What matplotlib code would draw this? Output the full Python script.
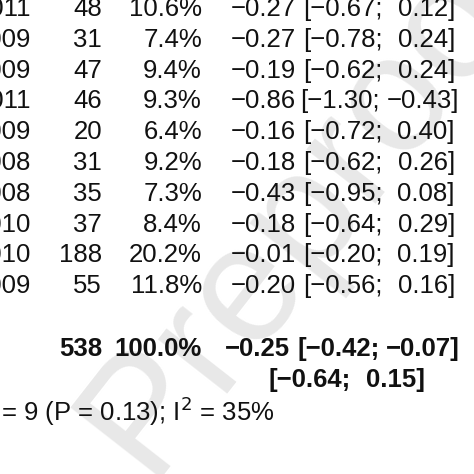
import matplotlib.pyplot as plt

years = ["2011", "2009", "2009", "2011", "2009", "2008", "2008", "2010", "2010", "2009"]
totals = ["48", "31", "47", "46", "20", "31", "35", "37", "188", "55"]
weights = ["10.6%", "7.4%", "9.4%", "9.3%", "6.4%", "9.2%", "7.3%", "8.4%", "20.2%", "11.8%"]
smd = ["\u22120.27", "\u22120.27", "\u22120.19", "\u22120.86", "\u22120.16",
       "\u22120.18", "\u22120.43", "\u22120.18", "\u22120.01", "\u22120.20"]
ci_lo = ["\u22120.67", "\u22120.78", "\u22120.62", "\u22121.30", "\u22120.72",
         "\u22120.62", "\u22120.95", "\u22120.64", "\u22120.20", "\u22120.56"]
ci_hi = ["0.12", "0.24", "0.24", "\u22120.43", "0.40", "0.26", "0.08", "0.29", "0.19", "0.16"]

plt.rcParams['font.family'] = ['Liberation Sans', 'DejaVu Sans']
fig = plt.figure(figsize=(4.74, 4.74), dpi=100)
ax = fig.add_axes([0, 0, 1, 1])
ax.set_xlim(0, 474)
ax.set_ylim(474, 0)
ax.axis('off')

ax.text(175, 500, "Preproof", fontsize=120, color='#e8e8e8', rotation=52,
        ha='left', va='bottom', rotation_mode='anchor', zorder=0)

fs = 18.5
y0, dy = 9, 30.8
for i in range(len(years)):
    y = y0 + i * dy
    kw = dict(fontsize=fs, va='center', color='#111111', fontweight='medium')
    ax.text(31, y, years[i], ha='right', **kw)
    ax.text(102, y, totals[i], ha='right', **kw)
    ax.text(202, y, weights[i], ha='right', **kw)
    ax.text(296, y, smd[i], ha='right', **kw)
    ax.text(303 if not ci_lo[i].endswith("1.30") else 300, y, "[" + ci_lo[i] + ";", ha='left', **kw)
    ax.text(455 if not ci_hi[i].startswith("\u2212") else 459, y, ci_hi[i] + "]", ha='right', **kw)

bk = dict(fontsize=fs, va='center', color='#111111', fontweight='bold')
ax.text(102, 349, "538", ha='right', **bk)
ax.text(202, 349, "100.0%", ha='right', **bk)
ax.text(290, 349, "\u22120.25", ha='right', **bk)
ax.text(298, 349, "[\u22120.42;", ha='left', **bk)
ax.text(460, 349, "\u22120.07]", ha='right', **bk)
ax.text(269, 380, "[\u22120.64;", ha='left', **bk)
ax.text(425, 380, "0.15]", ha='right', **bk)

ax.text(1, 411, "= 9 (P = 0.13); I$^2$ = 35%", ha='left', va='center',
        fontsize=fs, color='#111111')

fig.savefig("out.png", dpi=100)
